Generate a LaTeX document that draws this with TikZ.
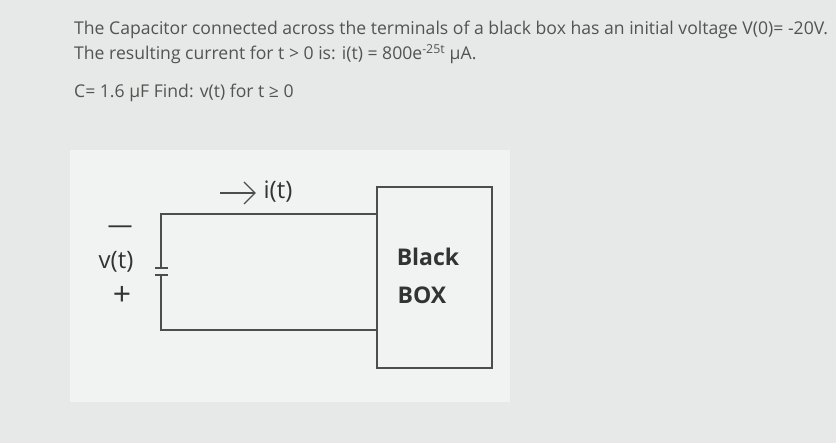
\documentclass[tikz,border=0pt]{standalone}
\usepackage{fontspec}
\setmainfont{Open Sans}
\definecolor{bg}{HTML}{E6E9E7}
\definecolor{panel}{HTML}{F1F3F2}
\definecolor{txt}{HTML}{505552}
\definecolor{wire}{HTML}{4A4E4C}
\tikzset{lbl/.style={inner sep=0pt,anchor=west,text=txt,font=\fontsize{17.6}{20}\selectfont},
 big/.style={inner sep=0pt,text=black!80,font=\fontsize{25}{28}\selectfont},
 w/.style={draw=wire,line width=1.6pt}}
\begin{document}
\begin{tikzpicture}[x=1pt,y=-1pt]
\fill[bg] (0,0) rectangle (836,443);
\useasboundingbox (0,0) rectangle (836,443);
\fill[panel] (70,150) rectangle (510,402);
\node[lbl] (t1) at (74,30) {The Capacitor connected across the terminals of a black box has an initial voltage V(0)= -20V.};
\node[lbl] (t2) at (74,54) {The resulting current for t > 0 is: i(t) = 800e\textsuperscript{-25t} μA.};
\node[lbl] (t3) at (74,93) {C= 1.6 μF Find: v(t) for t ≥ 0};
\node[draw=wire,line width=1.6pt,minimum width=115pt,minimum height=181pt,inner sep=0pt] (box) at (434.5,277.5) {};
\node[big,font=\fontsize{23}{26}\selectfont\bfseries] (bl) at (428,257) {Black};
\node[big,font=\fontsize{23}{26}\selectfont\bfseries] (bx) at (422,295) {BOX};
\coordinate (tl) at (161,214);
\coordinate (bl2) at (161,330);
\coordinate (tr) at (377,214);
\coordinate (br) at (377,330);
\coordinate (p1) at (161,268);
\coordinate (p2) at (161,275);
\draw[w] (tr) -- (tl) -- (p1);
\draw[w] (p2) -- (bl2) -- (br);
\draw[w] (155,268) -- (168,268);
\draw[w] (155,275) -- (168,275);
\node[big] (mn) at (120,230) {—};
\node[big,font=\fontsize{24}{26}\selectfont] (vt) at (116,262) {v(t)};
\node[big,font=\fontsize{32}{34}\selectfont] (pl) at (122,296) {+};
\coordinate (a1) at (220,193);
\coordinate (a2) at (254,193);
\draw[wire,line width=1.3pt] (a1) -- (a2);
\draw[wire,line width=1.3pt] (244,182) -- (255,193) -- (244,204);
\node[big,font=\fontsize{24}{26}\selectfont] (it) at (278,192) {i(t)};
\end{tikzpicture}
\end{document}
